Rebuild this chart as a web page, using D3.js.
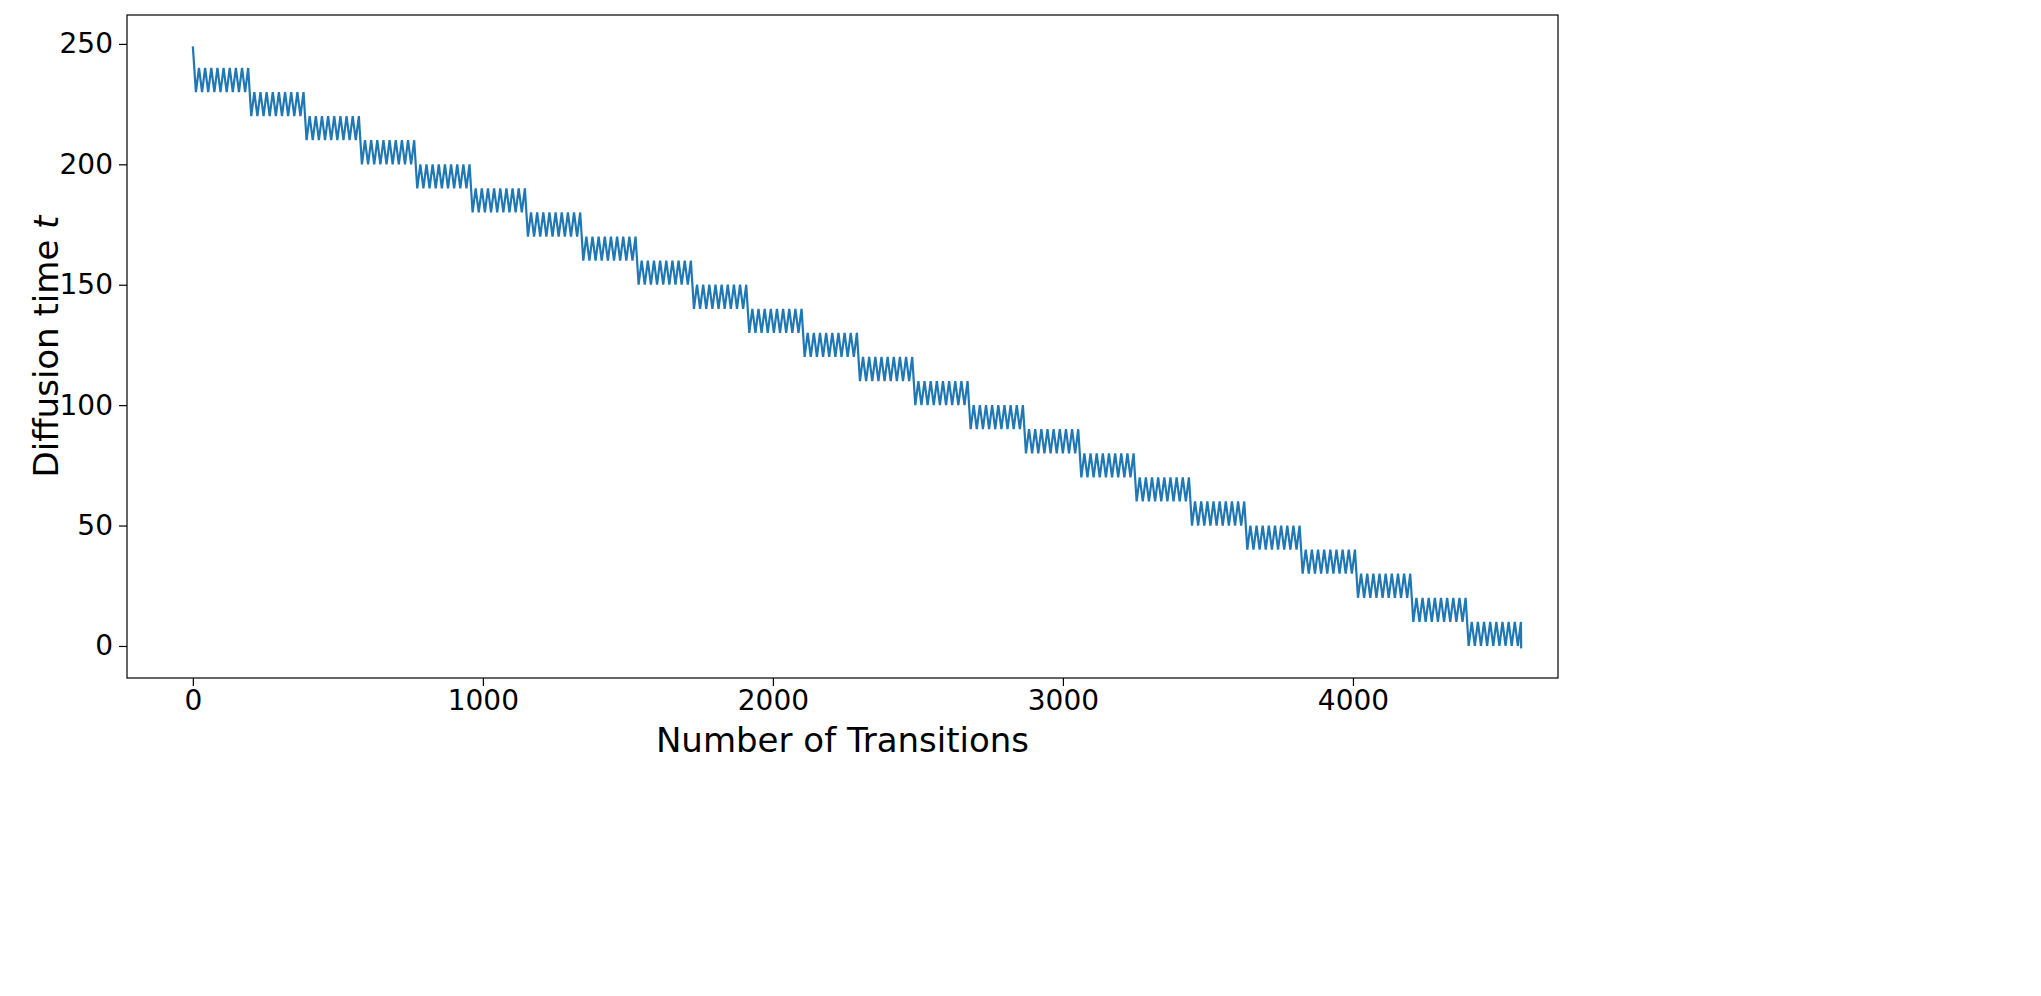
<!DOCTYPE html><html><head><meta charset="utf-8"><script src="https://cdn.jsdelivr.net/npm/d3@7"></script>
<style>body{margin:0;background:#fff}text{font-family:"DejaVu Sans",sans-serif}</style></head><body><svg id="c" width="2041" height="996"></svg>
<script>
const xTicks=[0,1000,2000,3000,4000];
const yTicks=[0,50,100,150,200,250];
const startValue=249, endValue=-1;
const blockLows=[230,220,210,200,190,180,170,160,150,140,130,120,110,100,90,80,70,60,50,40,30,20,10,0];
const cyclesPerBlock=9, stepSize=10.6, lastX=4580;
const data=[[0,startValue]];
let x=0;
blockLows.forEach(lo=>{for(let i=0;i<cyclesPerBlock;i++){x+=stepSize;data.push([x,lo]);x+=stepSize;data.push([x,lo+10]);}});
data.push([lastX,endValue]);
const L=127,R=1558,T=15,B=678;
const sx=d3.scaleLinear().domain([-227,4707]).range([L,R]);
const sy=d3.scaleLinear().domain([-13.3,262]).range([B,T]);
const svg=d3.select("#c");
svg.append("path").datum(data).attr("fill","none").attr("stroke","#1f77b4").attr("stroke-width",2.2)
 .attr("d",d3.line().x(d=>sx(d[0])).y(d=>sy(d[1])));
svg.append("rect").attr("x",L).attr("y",T).attr("width",R-L).attr("height",B-T).attr("fill","none").attr("stroke","#000").attr("stroke-width",1.2);
const gx=svg.append("g").attr("transform",`translate(0,${B})`).call(d3.axisBottom(sx).tickValues(xTicks).tickSize(8).tickPadding(4).tickFormat(d3.format("d")));
const gy=svg.append("g").attr("transform",`translate(${L},0)`).call(d3.axisLeft(sy).tickValues(yTicks).tickSize(8).tickPadding(6));
[gx,gy].forEach(g=>{g.select(".domain").remove();g.selectAll("text").attr("font-size",28).attr("fill","#000").style("font-family","DejaVu Sans");g.selectAll("line").attr("stroke","#000").attr("stroke-width",1.2);});
svg.append("text").attr("x",(L+R)/2).attr("y",752).attr("text-anchor","middle").attr("font-size",34).text("Number of Transitions");
const yl=svg.append("text").attr("transform",`translate(58,${(T+B)/2}) rotate(-90)`).attr("text-anchor","middle").attr("font-size",34);
yl.append("tspan").text("Diffusion time ");yl.append("tspan").attr("font-style","italic").text("t");
</script></body></html>
